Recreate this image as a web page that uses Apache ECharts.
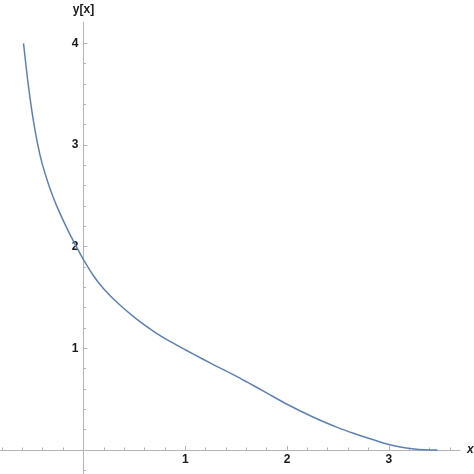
<!DOCTYPE html>
<html>
<head>
<meta charset="utf-8">
<script src="https://cdn.jsdelivr.net/npm/echarts@6/dist/echarts.min.js"></script>
<style>
  html, body { margin: 0; padding: 0; background: #fff; }
  #chart { width: 474px; height: 474px; }
</style>
</head>
<body>
<div id="chart"></div>
<script>
// curve y[x]
const xs = [-0.589, -0.55, -0.5, -0.45, -0.409, -0.35, -0.3, -0.246, -0.15, -0.05, 0, 0.1, 0.2, 0.35, 0.52, 0.7, 0.85, 1.0, 1.18, 1.28, 1.5, 1.61, 1.8, 2.0, 2.26, 2.5, 2.66, 2.8, 2.98, 3.1, 3.25, 3.35, 3.48];
const ys = [4.0, 3.655, 3.29, 3.008, 2.829, 2.634, 2.494, 2.362, 2.156, 1.963, 1.873, 1.712, 1.584, 1.433, 1.29, 1.16, 1.068, 0.986, 0.89, 0.838, 0.727, 0.667, 0.562, 0.45, 0.322, 0.22, 0.162, 0.115, 0.06, 0.032, 0.01, 0.003, 0.0];

// axis extents and ticks
const xRange = [-0.82, 3.70];
const yRange = [-0.236, 4.21];
const xMajor = [1, 2, 3];
const yMajor = [1, 2, 3, 4];
const xMinor = [-0.8, -0.6, -0.4, -0.2, 0.2, 0.4, 0.6, 0.8, 1.2, 1.4, 1.6, 1.8, 2.2, 2.4, 2.6, 2.8, 3.2, 3.4, 3.6];
const yMinor = [-0.2, 0.2, 0.4, 0.6, 0.8, 1.2, 1.4, 1.6, 1.8, 2.2, 2.4, 2.6, 2.8, 3.2, 3.4, 3.6, 3.8];

const W = 474, H = 474;
const gridLeft = 0, gridRight = 14, gridTop = 22, gridBottom = 0;
// pixel offsets of the zero lines inside the full grid
const zeroLeft = gridLeft + (0 - xRange[0]) / (xRange[1] - xRange[0]) * (W - gridLeft - gridRight);
const zeroBottom = gridBottom + (0 - yRange[0]) / (yRange[1] - yRange[0]) * (H - gridTop - gridBottom);

const axisGray = '#b4b4b4';
const labelFont = { color: '#1a1a1a', fontSize: 12, fontWeight: 'bold', fontFamily: 'Liberation Sans' };

function intLabel(v) {
    return (v > 0 && Math.abs(v - Math.round(v)) < 1e-9) ? String(Math.round(v)) : '';
}

const chart = echarts.init(document.getElementById('chart'), null, { renderer: 'canvas' });

const option = {
    animation: false,
    backgroundColor: '#fff',
    grid: [
        { left: gridLeft, right: gridRight, top: gridTop, bottom: gridBottom, containLabel: false, outerBoundsMode: 'none' },
        // quadrant x>=0, y>=0: only used for tick labels
        { left: zeroLeft, right: gridRight, top: gridTop, bottom: zeroBottom, containLabel: false, outerBoundsMode: 'none' }
    ],
    xAxis: [
        {
            gridIndex: 0, type: 'value', min: xRange[0], max: xRange[1],
            name: 'x', nameLocation: 'end', nameGap: 7,
            nameTextStyle: Object.assign({}, labelFont, { fontStyle: 'italic', verticalAlign: 'middle' }),
            axisLine: { onZero: true, onZeroAxisIndex: 0, lineStyle: { color: axisGray, width: 1 } },
            axisTick: { inside: true, length: 4, customValues: xMajor, lineStyle: { color: axisGray } },
            axisLabel: { show: false },
            splitLine: { show: false }
        },
        {
            // minor ticks only
            gridIndex: 0, type: 'value', min: xRange[0], max: xRange[1],
            axisLine: { show: false, onZero: true, onZeroAxisIndex: 0 },
            axisTick: { inside: false, length: 2.5, customValues: xMinor, lineStyle: { color: axisGray } },
            axisLabel: { show: false },
            splitLine: { show: false }
        },
        {
            // labels only
            gridIndex: 1, type: 'value', min: 0, max: xRange[1], interval: 1,
            position: 'bottom',
            axisLine: { show: false, onZero: false },
            axisTick: { show: false },
            axisLabel: Object.assign({ margin: 4, formatter: intLabel, showMinLabel: true, showMaxLabel: true }, labelFont),
            splitLine: { show: false }
        }
    ],
    yAxis: [
        {
            gridIndex: 0, type: 'value', min: yRange[0], max: yRange[1],
            name: 'y[x]', nameLocation: 'end', nameGap: 6,
            nameTextStyle: Object.assign({}, labelFont, { align: 'center' }),
            axisLine: { onZero: true, onZeroAxisIndex: 0, lineStyle: { color: axisGray, width: 1 } },
            axisTick: { inside: true, length: 4, customValues: yMajor, lineStyle: { color: axisGray } },
            axisLabel: { show: false },
            splitLine: { show: false }
        },
        {
            gridIndex: 0, type: 'value', min: yRange[0], max: yRange[1],
            axisLine: { show: false, onZero: true, onZeroAxisIndex: 0 },
            axisTick: { inside: false, length: 2.5, customValues: yMinor, lineStyle: { color: axisGray } },
            axisLabel: { show: false },
            splitLine: { show: false }
        },
        {
            gridIndex: 1, type: 'value', min: 0, max: yRange[1], interval: 1,
            position: 'left',
            axisLine: { show: false, onZero: false },
            axisTick: { show: false },
            axisLabel: Object.assign({ margin: 5, formatter: intLabel, showMinLabel: true, showMaxLabel: true }, labelFont),
            splitLine: { show: false }
        }
    ],
    series: [
        {
            type: 'line',
            xAxisIndex: 0,
            yAxisIndex: 0,
            data: xs.map((x, i) => [x, ys[i]]),
            showSymbol: false,
            smooth: 0.2,
            lineStyle: { color: '#5e81b5', width: 1.5 }
        }
    ]
};

chart.setOption(option);
</script>
</body>
</html>
